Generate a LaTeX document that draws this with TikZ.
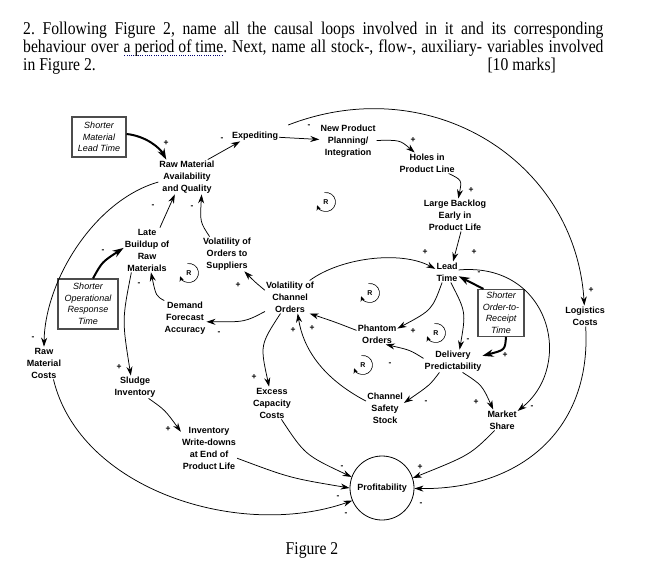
\documentclass[tikz,border=0pt]{standalone}
\usepackage{fontspec}
\setmainfont{Liberation Serif}
\setsansfont{Liberation Sans}
\usetikzlibrary{arrows.meta}
\frenchspacing
\newcommand\mydotul[1]{\setbox0\hbox{#1}\rlap{\raisebox{-3.6pt}[0pt][0pt]{\hbox to\wd0{\color{blue!45!black}\xleaders\hbox to 2.6pt{\hss\rule{1.1pt}{1.1pt}\hss}\hfill}}}\box0}
\begin{document}
\begin{tikzpicture}[x=1pt,y=-1pt,
  lbl/.style={align=center,font=\sffamily\bfseries\fontsize{9}{12}\selectfont,inner sep=1pt},
  bx/.style={draw=black!70,line width=1.1pt,align=center,font=\sffamily\itshape\fontsize{9}{11.5}\selectfont,inner sep=1pt},
  pol/.style={font=\sffamily\bfseries\fontsize{8.5}{8.5}\selectfont,inner sep=0pt},
  lk/.style={line width=0.75pt,-{Stealth[length=9pt,width=6pt]}},
  tk/.style={line width=2pt,-{Stealth[length=11pt,width=7.5pt]}},
  rloop/.pic={
    \draw[line width=0.6pt,-{Stealth[length=5pt,width=4.5pt]}] (-100:9.5) arc[start angle=-100,end angle=160,radius=9.5];
    \node[font=\sffamily\bfseries\fontsize{7}{7}\selectfont,inner sep=0pt] {R};
  }]
\useasboundingbox (0,0) rectangle (647,562);
\fill[white] (0,0) rectangle (647,562);

% question text
\node[anchor=north west,inner sep=0pt] (q) at (23,21.7)
  {\scalebox{0.87}[1]{\parbox{667pt}{\fontsize{18}{18.2}\selectfont\frenchspacing
   2. Following Figure 2, name all the causal loops involved in it and its corresponding\linebreak
   behaviour over \mydotul{a period of time}. Next, name all stock-, flow-, auxiliary- variables involved\linebreak
   in Figure 2.}}};
\node[anchor=base east,inner sep=0pt] (marks) at (556,70)
  {\scalebox{0.87}[1]{\fontsize{18}{18}\selectfont [10 marks]}};
\node[anchor=base,inner sep=0pt] (cap) at (312,554) {\scalebox{0.87}[1]{\fontsize{18}{18}\selectfont Figure 2}};

% variables
\node[bx,minimum width=54pt,minimum height=40pt] (sml) at (99,137) {Shorter\\Material\\Lead Time};
\node[lbl] (rmaq) at (187,177) {Raw Material\\Availability\\and Quality};
\node[lbl] (exp) at (255,136) {Expediting};
\node[lbl] (npp) at (348,141) {New Product\\Planning/\\Integration};
\node[lbl] (holes) at (427,163) {Holes in\\Product Line};
\node[lbl] (backlog) at (455,215) {Large Backlog\\Early in\\Product Life};
\node[lbl] (late) at (147,250) {Late\\Buildup of\\Raw\\Materials};
\node[lbl] (vots) at (227,254) {Volatility of\\Orders to\\Suppliers};
\node[bx,minimum width=60pt,minimum height=50pt] (sort) at (88,304) {Shorter\\Operational\\Response\\Time};
\node[lbl] (dfa) at (185,318) {Demand\\Forecast\\Accuracy};
\node[lbl] (vco) at (290,297) {Volatility of\\Channel\\Orders};
\node[lbl] (lead) at (447,272) {Lead\\Time};
\node[lbl] (phantom) at (377,334) {Phantom\\Orders};
\node[bx,minimum width=46pt,minimum height=47pt] (sotr) at (501,313) {Shorter\\Order-to-\\Receipt\\Time};
\node[lbl] (dp) at (453,361) {Delivery\\Predictability};
\node[lbl] (css) at (385,408) {Channel\\Safety\\Stock};
\node[lbl] (ecc) at (272,403) {Excess\\Capacity\\Costs};
\node[lbl] (ms) at (502,420) {Market\\Share};
\node[lbl] (logi) at (585,316) {Logistics\\Costs};
\node[lbl] (rmc) at (44,363) {Raw\\Material\\Costs};
\node[lbl] (sludge) at (135,387) {Sludge\\Inventory};
\node[lbl] (iwd) at (209,448) {Inventory\\Write-downs\\at End of\\Product Life};
\node[lbl,circle,draw,line width=0.8pt,minimum size=64pt,inner sep=0pt] (prof) at (382,488) {Profitability};

% links
\draw[tk] ([yshift=3pt]sml.east) .. controls (146,136) and (160,148) .. (rmaq.140);
\draw[lk] (rmaq.40) -- (exp.200);
\draw[lk] (exp) -- (npp);
\draw[lk] (npp) .. controls (400,140) .. (holes);
\draw[lk] (holes) .. controls (462,180) .. (backlog);
\draw[lk] (backlog.290) -- (lead.60);
\draw[lk] ([xshift=9pt,yshift=11pt]exp.east) .. controls (430,70) and (575,160) .. (logi);
\draw[lk] (logi) .. controls (592,430) and (520,490) .. (prof);
\draw[lk] (late.60) -- (rmaq.235);
\draw[lk] (vots.135) .. controls (200,222) .. (rmaq.310);
\draw[tk] ([xshift=5pt]sort.north) .. controls (102,262) .. (late.175);
\draw[lk] (dfa.140) .. controls (156,296) .. (late.280);
\draw[lk] (vco.165) .. controls (255,282) .. (vots.315);
\draw[lk] (vco.210) .. controls (245,322) .. (dfa.350);
\draw[lk] (vco.40) .. controls (340,258) and (400,250) .. (lead.165);
\draw[lk] (vco.240) .. controls (260,345) .. (ecc.100);
\draw[lk] (phantom.170) .. controls (335,322) .. (vco.320);
\draw[lk] (css.160) .. controls (322,378) and (303,348) .. (vco.295);
\draw[lk] (lead.245) .. controls (432,310) .. (phantom.15);
\draw[lk] (lead.290) .. controls (466,312) .. (dp.60);
\draw[lk] (dp.175) .. controls (410,350) .. (phantom.310);
\draw[lk] (dp.220) .. controls (430,385) .. (css.15);
\draw[lk] (dp.310) .. controls (482,385) .. (ms.130);
\draw[lk] (lead.10) .. controls (550,262) and (575,365) .. (ms.30);
\draw[tk] ([xshift=6pt]sotr.north west) -- (lead.340);
\draw[tk] ([xshift=5pt]sotr.south) .. controls (505,350) .. (dp.10);
\draw[lk] (ms.235) .. controls (470,455) .. (prof.18);
\draw[lk] (ecc.300) .. controls (305,455) .. (prof.160);
\draw[lk] (iwd.340) .. controls (290,478) .. (prof.180);
\draw[lk] (rmc.300) .. controls (80,490) and (240,540) .. (prof.203);
\draw[lk] (rmaq.190) .. controls (95,200) and (45,280) .. (rmc.north);
\draw[lk] (late.235) .. controls (122,320) .. (sludge.110);
\draw[lk] (sludge.320) .. controls (165,410) .. (iwd.150);

% polarities
\foreach \n/\x/\y in {p1/166/143,p2/413/140,p3/471/190,p4/474/252,p5/425/252,p6/591/290,p7/238/285,p8/254/377,p9/312/328,p10/293/330,p11/413/331,p12/505/355,p13/476/402,p14/420/467,p15/119/367,p16/168/429}
  \node[pol] (\n) at (\x,\y) {+};
\foreach \n/\x/\y in {m1/222/139,m2/309/126,m3/153/206,m4/192/207,m5/103/251,m6/139/284,m7/219/333,m8/468/340,m9/390/364,m10/426/402,m11/532/407,m12/479/273,m13/342/467,m14/338/497,m15/346/514,m16/421/504,m17/33/338}
  \node[pol] (\n) at (\x,\y) {-};

% loop identifiers
\pic (r1) at (326,202) {rloop};
\pic (r2) at (189,273) {rloop};
\pic (r3) at (370,293) {rloop};
\pic (r4) at (436,333) {rloop};
\pic (r5) at (363,365) {rloop};
\end{tikzpicture}
\end{document}
